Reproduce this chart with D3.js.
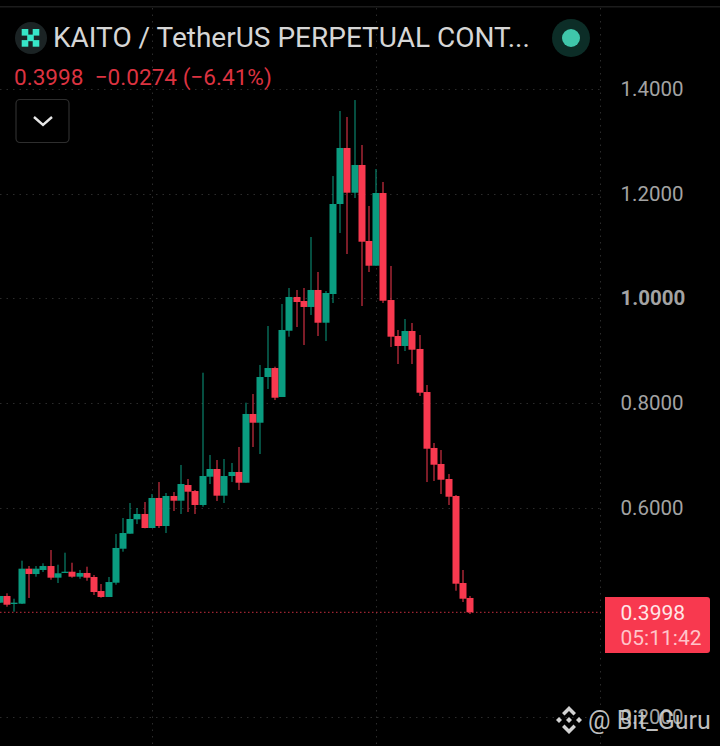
<!DOCTYPE html>
<html lang="en">
<head>
  <meta charset="UTF-8">
  <title>KAITO / TetherUS</title>
  <style>
    html, body { margin: 0; padding: 0; background: #000; }
    svg { display: block; font-family: Roboto, sans-serif; }
  </style>
</head>
<body>
  <script src="https://d3js.org/d3.v7.min.js"></script>
  <script>
    // Candle values
    let opens = [.4182,.4310,.4157,.4163,.4832,.4730,.4807,.4883,.4660,.4750,.4774,.4679,.4750,.4673,.4405,.4291,.4564,.5214,.5501,.5776,.5878,.5610,.6184,.5648,.6222,.6132,.6432,.6317,.6050,.6591,.6738,.6228,.6604,.6681,.6476,.7790,.7623,.8497,.8669,.8115,.9382,1.0027,.9950,.9836,1.0161,.9535,1.0084,1.1805,1.2876,1.2021,1.2551,1.1098,1.0625,1.2015,.9969,.9281,.9090,.9377,.9033,.8210,.7140,.6834,.6547,.6222,.4558,.4272];
    let highs = [.4310,.4361,.4258,.4985,.4883,.4883,.4935,.5189,.4908,.5138,.4946,.4807,.4870,.4711,.4539,.4673,.5495,.5801,.6088,.5992,.6107,.6260,.6489,.6279,.6298,.6815,.6547,.6337,.8579,.7006,.6910,.6929,.6853,.7159,.8006,.8172,.8727,.9472,.8694,.9893,1.0199,1.0161,1.0199,1.1174,1.0505,1.0141,1.2340,1.3583,1.3469,1.3793,1.2933,1.1767,1.2474,1.2226,1.0620,.9396,.9606,.9530,.9300,.8344,.7235,.7101,.6642,.6241,.4807,.4310];
    let lows = [.4176,.4105,.4010,.4157,.4272,.4679,.4769,.4621,.4558,.4750,.4660,.4641,.4602,.4329,.4277,.4291,.4526,.5157,.5501,.5686,.5604,.5610,.5610,.5514,.5935,.5878,.5916,.5878,.6017,.6451,.6126,.6088,.6489,.6337,.6476,.7159,.7025,.8268,.8057,.8115,.9268,.9453,.9109,.9683,.9281,.9185,.9912,1.1250,1.0849,1.1920,.9855,1.0505,1.0625,.9912,.9071,.8746,.8994,.8746,.8134,.6489,.6509,.6260,.6050,.4411,.4195,.3966];
    let closes = [.4310,.4143,.4182,.4832,.4730,.4832,.4883,.4660,.4744,.4774,.4679,.4750,.4660,.4386,.4291,.4577,.5228,.5514,.5782,.5878,.5610,.6184,.5648,.6222,.6132,.6451,.6304,.6050,.6604,.6738,.6228,.6604,.6681,.6476,.7790,.7623,.8497,.8669,.8101,.9396,1.0027,.9931,.9836,1.0161,.9535,1.0103,1.1805,1.2876,1.2021,1.2551,1.1084,1.0625,1.2015,.9956,.9268,.9090,.9377,.9019,.8197,.7126,.6820,.6533,.6208,.4545,.4258,.3998];

    let tickValues = [1.4, 1.2, 1.0, 0.8, 0.6, 0.4, 0.2];
    let gridTimes = [21, 52];
    let lastPrice = 0.3998;
    let countdown = "05:11:42";

    let svgWidth = 720;
    let svgHeight = 746;
    let plotRight = 601;

    let upColor = "#0a9c80";
    let downColor = "#f8394f";
    let gridColor = "#2b2b2b";

    let x = d3.scaleLinear().domain([0, 65]).range([0, 470.3]);
    let y = d3.scaleLinear().domain([0.4, 1.4]).range([612.2, 89.2]);

    let svg = d3.select("body")
      .append("svg")
      .attr("width", svgWidth)
      .attr("height", svgHeight);

    // Top edge of the panel
    svg.append("rect")
      .attr("x", 0).attr("y", 6)
      .attr("width", svgWidth).attr("height", 1.5)
      .attr("fill", "#1c1c1c");

    // Grid
    let grid = svg.append("g")
      .attr("stroke", gridColor)
      .attr("stroke-dasharray", "1.5 5");

    grid.selectAll(".h")
      .data(tickValues.filter(d => d !== 0.4))
      .enter()
      .append("line")
      .attr("x1", 0).attr("x2", plotRight)
      .attr("y1", d => Math.round(y(d)) + 0.5)
      .attr("y2", d => Math.round(y(d)) + 0.5);

    grid.selectAll(".v")
      .data(gridTimes)
      .enter()
      .append("line")
      .attr("y1", 8).attr("y2", svgHeight)
      .attr("x1", d => Math.round(x(d)) + 0.5)
      .attr("x2", d => Math.round(x(d)) + 0.5);

    grid.append("line")
      .attr("y1", 8).attr("y2", svgHeight)
      .attr("x1", plotRight - 0.5).attr("x2", plotRight - 0.5);

    // Last price line
    svg.append("line")
      .attr("x1", 0).attr("x2", plotRight)
      .attr("y1", y(lastPrice)).attr("y2", y(lastPrice))
      .attr("stroke", downColor)
      .attr("stroke-opacity", 0.8)
      .attr("stroke-dasharray", "1.5 2.5");

    // Candles
    let candles = svg.append("g").selectAll("g")
      .data(d3.range(opens.length))
      .enter()
      .append("g")
      .attr("fill", i => closes[i] >= opens[i] ? upColor : downColor);

    candles.append("rect")
      .attr("x", i => Math.round(x(i)) - 0.5)
      .attr("width", 1)
      .attr("y", i => y(highs[i]))
      .attr("height", i => y(lows[i]) - y(highs[i]));

    candles.append("rect")
      .attr("x", i => Math.round(x(i)) - 3.5)
      .attr("width", 7)
      .attr("y", i => y(Math.max(opens[i], closes[i])))
      .attr("height", i => Math.max(1, Math.abs(y(opens[i]) - y(closes[i]))));

    // Price axis
    let axis = svg.append("g")
      .attr("transform", "translate(620.5, 0)")
      .call(d3.axisRight(y)
        .tickValues(tickValues.filter(d => d !== 0.4))
        .tickSize(0)
        .tickPadding(0)
        .tickFormat(d => d.toFixed(4)));

    axis.select(".domain").remove();
    axis.selectAll("text")
      .attr("fill", "#a3a3a3")
      .style("font-family", "Roboto, sans-serif")
      .style("font-size", "20.5px")
      .style("font-weight", d => d === 1 ? 700 : 400);

    // Last price badge
    svg.append("path")
      .attr("d", "M605 597H707a3 3 0 0 1 3 3V650a3 3 0 0 1 -3 3H605Z")
      .attr("fill", downColor);

    svg.append("text")
      .attr("x", 620.5).attr("y", 620)
      .attr("fill", "#ffe6e8")
      .style("font-size", "21px")
      .text(lastPrice.toFixed(4));

    svg.append("text")
      .attr("x", 620.5).attr("y", 644.5)
      .attr("fill", "#ffc4c9")
      .style("font-size", "21px")
      .text(countdown);

    // Header
    svg.append("circle")
      .attr("cx", 31).attr("cy", 38).attr("r", 16)
      .attr("fill", "#1b2324");

    // Coin logo
    let logo = svg.append("g").attr("fill", "#37e6c8");
    logo.selectAll("rect")
      .data([[21.7, 29, 6.6], [32.7, 29, 6.6], [21.7, 40.1, 6.6], [32.7, 40.1, 6.6], [27.2, 34.6, 6.6]])
      .enter()
      .append("rect")
      .attr("x", d => d[0]).attr("y", d => d[1])
      .attr("width", d => d[2])
      .attr("height", d => d[2]);

    svg.append("text")
      .attr("x", 53).attr("y", 47)
      .attr("fill", "#d6d6d6")
      .style("font-size", "28px")
      .text("KAITO / TetherUS PERPETUAL CONT...");

    svg.append("text")
      .attr("x", 14).attr("y", 85)
      .attr("fill", "#dc3340")
      .style("font-size", "22.6px")
      .style("white-space", "pre")
      .text("0.3998  \u22120.0274 (\u22126.41%)");

    // Market status dot
    svg.append("circle")
      .attr("cx", 571).attr("cy", 38).attr("r", 19)
      .attr("fill", "#0c2d27");
    svg.append("circle")
      .attr("cx", 571).attr("cy", 38).attr("r", 9)
      .attr("fill", "#3fc6aa");

    // Collapse button
    svg.append("rect")
      .attr("x", 16).attr("y", 99.5)
      .attr("width", 53).attr("height", 43)
      .attr("rx", 4)
      .attr("fill", "#000")
      .attr("stroke", "#2e2e2e")
      .attr("stroke-width", 1.2);

    svg.append("path")
      .attr("d", "M34 117L43 125L52 117")
      .attr("fill", "none")
      .attr("stroke", "#e6e6e6")
      .attr("stroke-width", 2.4);

    // Watermark
    let mark = svg.append("g")
      .attr("fill", "#d2d2d2")
      .attr("transform", "translate(569, 720)");
    mark.append("path").attr("d", "M0 -14L7 -7L4.5 -4.5L0 -9L-4.5 -4.5L-7 -7Z");
    mark.append("path").attr("d", "M0 14L7 7L4.5 4.5L0 9L-4.5 4.5L-7 7Z");
    mark.append("path").attr("d", "M0 -3L3 0L0 3L-3 0Z");
    mark.append("path").attr("d", "M-10 -3L-7 0L-10 3L-13 0Z");
    mark.append("path").attr("d", "M10 -3L13 0L10 3L7 0Z");

    svg.append("text")
      .attr("x", 588).attr("y", 729)
      .attr("fill", "#d2d2d2")
      .attr("fill-opacity", 0.92)
      .style("font-size", "25px")
      .text("@ Bit_Guru");
  </script>
</body>
</html>
